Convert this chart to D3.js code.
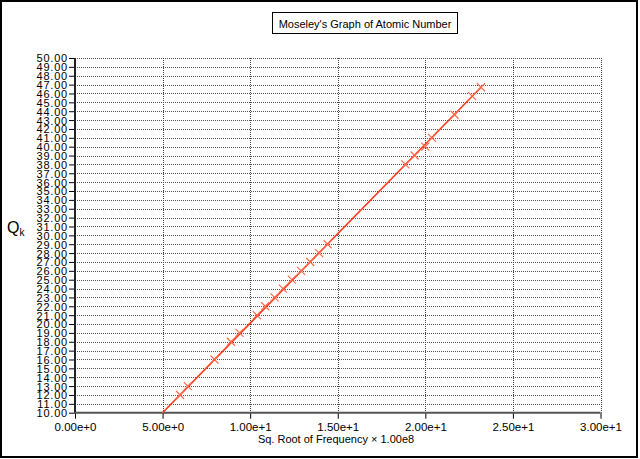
<!DOCTYPE html>
<html>
<head>
<meta charset="utf-8">
<script src="https://cdn.jsdelivr.net/npm/d3@7"></script>
<style>
  body { margin: 0; background: #fff; }
  text { font-family: "Liberation Sans", Arial, sans-serif; }
</style>
</head>
<body>
<script>
// measured points (x = sqrt of frequency / 1e8, y = Qk)
var sqrtFreq = [6.0, 6.44, 7.96, 8.9, 9.39, 10.38, 10.86, 11.39, 11.87, 12.38, 12.91, 13.43, 13.94, 14.42, 18.86, 19.39, 20.0, 20.38, 21.67, 22.67, 23.18];
var qk = [12, 13, 16, 18, 19, 21, 22, 23, 24, 25, 26, 27, 28, 29, 38, 39, 40, 41, 43.6, 45.7, 46.7];

// straight fit line drawn through the points
var fitX = [5.0, 23.18];
var fitY = [10, 46.7];

var xTicks = [0, 5, 10, 15, 20, 25, 30];
var xTickLabels = ["0.00e+0", "5.00e+0", "1.00e+1", "1.50e+1", "2.00e+1", "2.50e+1", "3.00e+1"];
var yTicks = d3.range(10, 51, 1);

var width = 640;
var height = 459;

var x = d3.scaleLinear().domain([0, 30]).range([75, 600.5]);
var y = d3.scaleLinear().domain([10, 50]).range([412.7, 58]);

var svg = d3.select("body")
  .append("svg")
  .attr("width", width)
  .attr("height", height)

// outer frame
svg.append("rect")
  .attr("x", 1).attr("y", 1)
  .attr("width", 636).attr("height", 456)
  .attr("fill", "white")
  .attr("stroke", "black")
  .attr("stroke-width", 2)

// title box
svg.append("rect")
  .attr("x", 272.5).attr("y", 12.5)
  .attr("width", 185).attr("height", 21)
  .attr("fill", "white")
  .attr("stroke", "black")
  .attr("stroke-width", 1)
svg.append("text")
  .attr("x", 365).attr("y", 27.5)
  .attr("text-anchor", "middle")
  .attr("font-size", 11)
  .text("Moseley's Graph of Atomic Number")

// grid lines (dotted)
svg.append("g")
  .selectAll("line")
  .data(yTicks.filter(function(d) { return d > 10; }))
  .enter()
  .append("line")
  .attr("x1", x(0)).attr("x2", x(30))
  .attr("y1", function(d) { return Math.round(y(d)) + 0.5; })
  .attr("y2", function(d) { return Math.round(y(d)) + 0.5; })
  .attr("stroke", "#555")
  .attr("stroke-dasharray", "1,1")

svg.append("g")
  .selectAll("line")
  .data(xTicks.filter(function(d) { return d > 0; }))
  .enter()
  .append("line")
  .attr("x1", function(d) { return Math.round(x(d)) + 0.5; })
  .attr("x2", function(d) { return Math.round(x(d)) + 0.5; })
  .attr("y1", y(50)).attr("y2", y(10))
  .attr("stroke", "#444")
  .attr("stroke-dasharray", "1,1")

// axes
var yAxis = d3.axisLeft(y)
  .tickValues(yTicks)
  .tickSize(6)
  .tickPadding(1)
  .tickFormat(d3.format(".2f"));

var xAxis = d3.axisBottom(x)
  .tickValues(xTicks)
  .tickSize(6)
  .tickPadding(4)
  .tickFormat(function(d, i) { return xTickLabels[i]; });

var gy = svg.append("g")
  .attr("transform", "translate(" + x(0) + ",0)")
  .call(yAxis)
gy.select(".domain").remove()
gy.selectAll("text")
  .attr("font-size", 11)
  .attr("letter-spacing", 0.8)
  .attr("fill", "black")
  .attr("dy", "0.36em")
gy.selectAll("line").attr("stroke", "black")

var gx = svg.append("g")
  .attr("transform", "translate(0," + y(10) + ")")
  .call(xAxis)
gx.select(".domain").remove()
gx.selectAll("text").attr("font-size", 11.5).attr("fill", "black")
gx.selectAll("line").attr("stroke", "black")

// solid axis lines
svg.append("line")
  .attr("x1", x(0)).attr("x2", x(0))
  .attr("y1", y(50)).attr("y2", y(10))
  .attr("stroke", "#222").attr("stroke-width", 2)
svg.append("line")
  .attr("x1", x(0)).attr("x2", x(30))
  .attr("y1", y(10)).attr("y2", y(10))
  .attr("stroke", "#555").attr("stroke-width", 2)

// fit line
svg.append("line")
  .attr("x1", x(fitX[0])).attr("y1", y(fitY[0]))
  .attr("x2", x(fitX[1])).attr("y2", y(fitY[1]))
  .attr("stroke", "#ff3a1c")
  .attr("stroke-width", 1.6)

// x markers
var pts = sqrtFreq.map(function(d, i) { return [d, qk[i]]; });
svg.append("g")
  .selectAll("path")
  .data(pts)
  .enter()
  .append("path")
  .attr("d", function(d) {
    var cx = x(d[0]), cy = y(d[1]), r = 4;
    return "M" + (cx - r) + "," + (cy - r) + "L" + (cx + r) + "," + (cy + r) +
           "M" + (cx - r) + "," + (cy + r) + "L" + (cx + r) + "," + (cy - r);
  })
  .attr("stroke", "#ff6a4c")
  .attr("stroke-width", 1.2)
  .attr("fill", "none")

// axis titles
var ql = svg.append("text")
  .attr("x", 7).attr("y", 233)
  .attr("font-size", 16)
ql.append("tspan").text("Q")
ql.append("tspan").attr("font-size", 10).attr("dy", 3).text("k")

svg.append("text")
  .attr("x", 336).attr("y", 443)
  .attr("text-anchor", "middle")
  .attr("font-size", 11)
  .text("Sq. Root of Frequency \u00d7 1.00e8")
</script>
</body>
</html>
